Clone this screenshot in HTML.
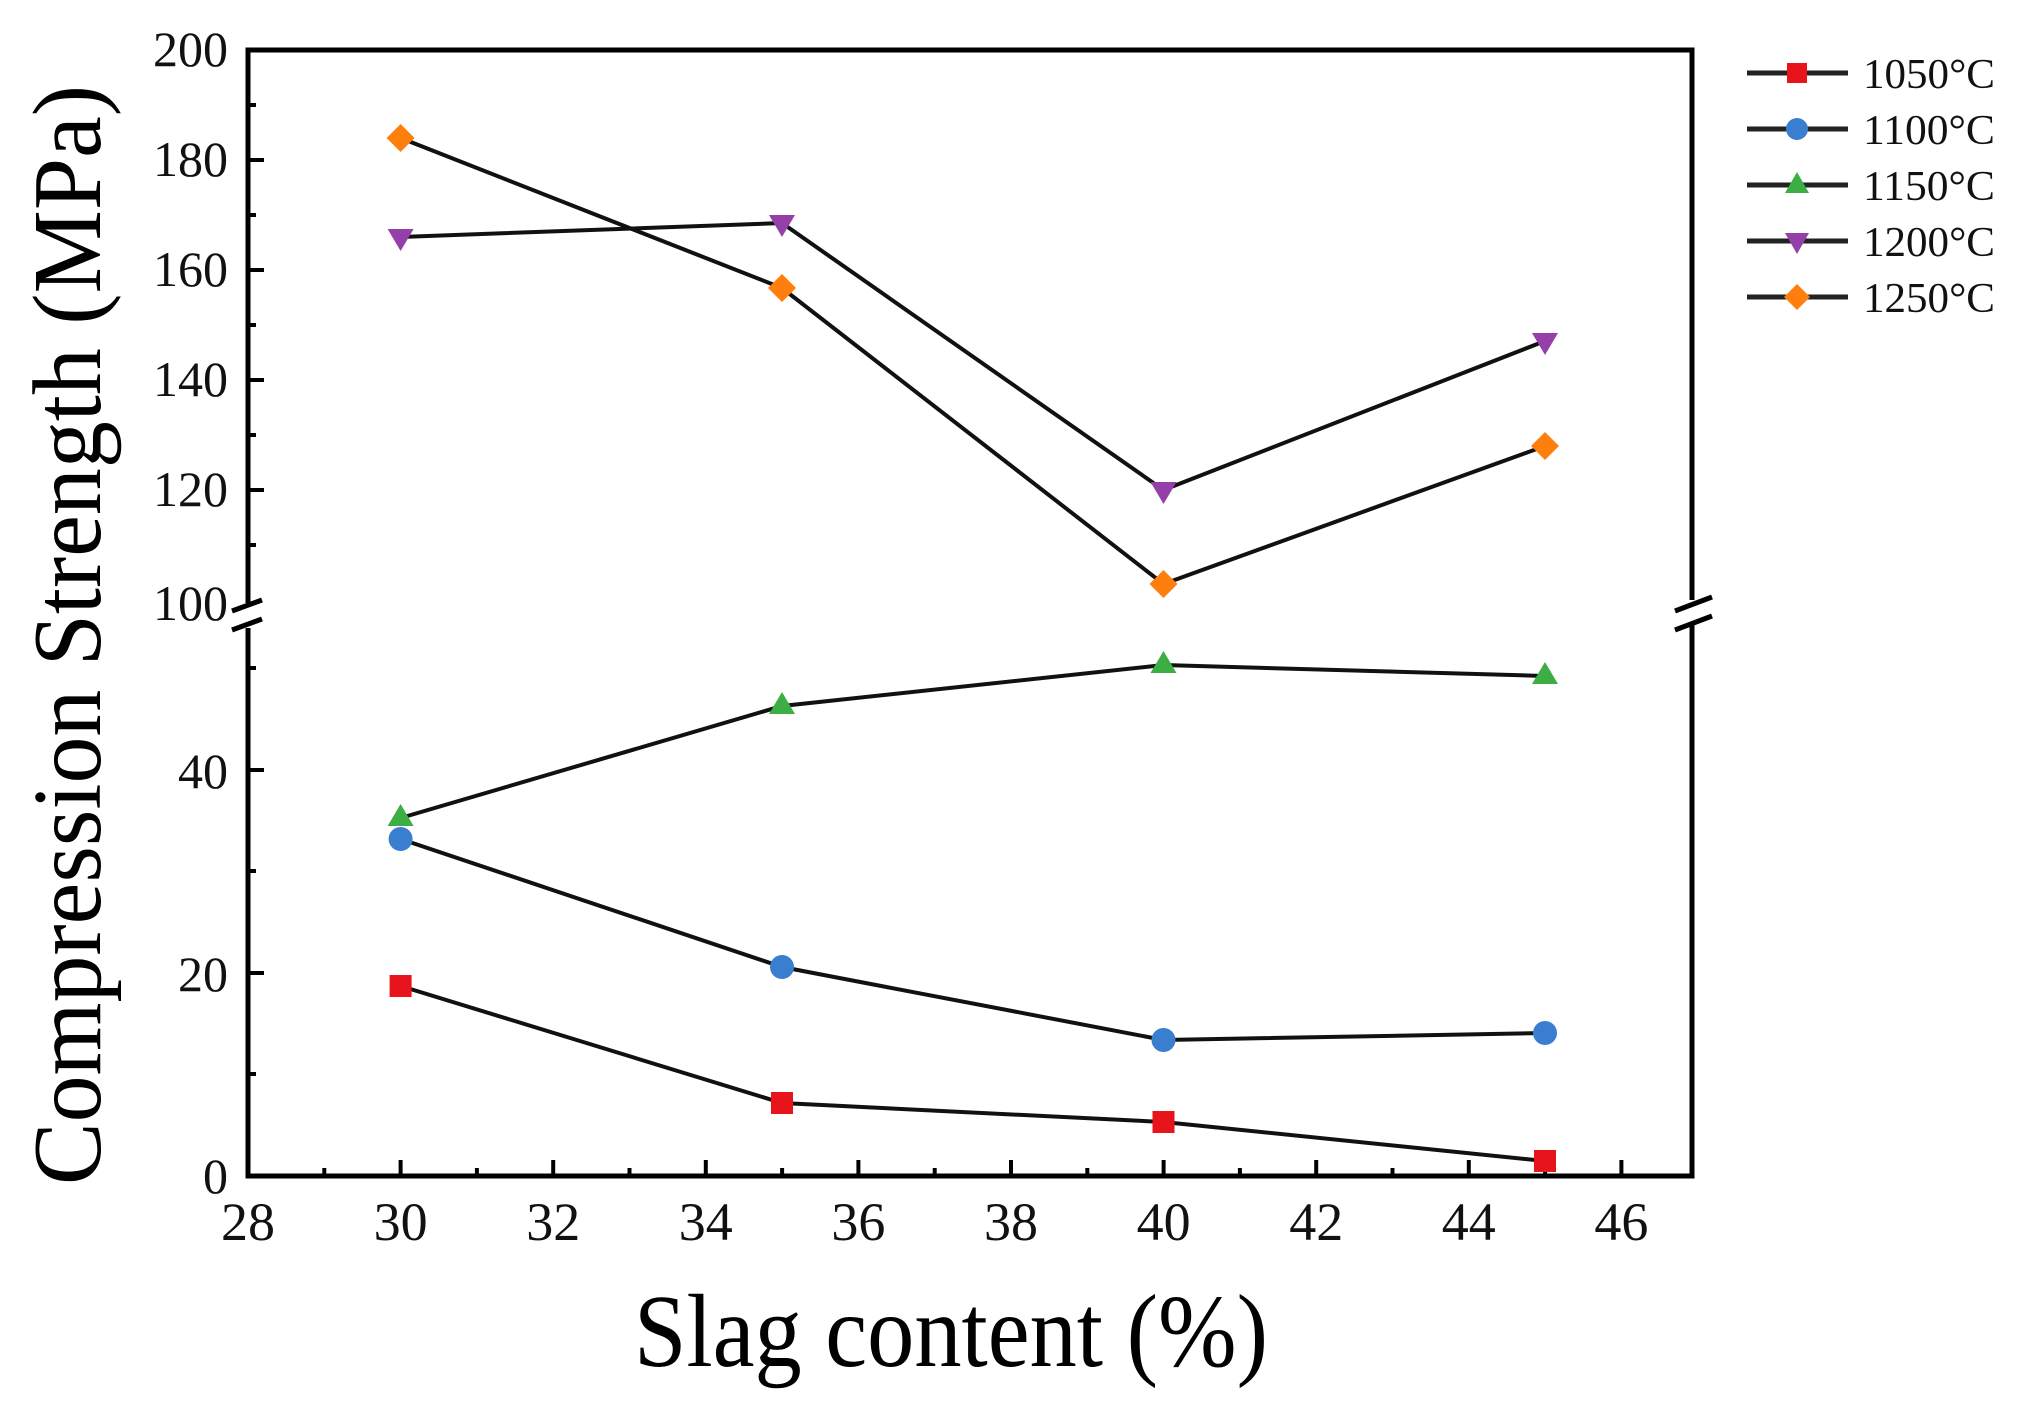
<!DOCTYPE html>
<html><head><meta charset="utf-8"><style>html,body{margin:0;padding:0;background:#fff}svg{display:block}</style></head>
<body>
<svg width="2022" height="1411" viewBox="0 0 2022 1411" xmlns="http://www.w3.org/2000/svg" font-family="Liberation Serif, serif">
<rect width="2022" height="1411" fill="#fff"/>
<g stroke="#000" stroke-width="5" fill="none">
<polyline points="248,603 248,50 1692,50 1692,600"/>
<polyline points="248,628 248,1176 1692,1176 1692,624"/>
</g>
<g stroke="#000" stroke-width="5">
<line x1="232" y1="611" x2="262" y2="600"/><line x1="232" y1="630" x2="262" y2="619"/>
<line x1="1675" y1="611" x2="1712" y2="597"/><line x1="1675" y1="630" x2="1712" y2="616"/>
</g>
<g stroke="#000" stroke-width="4">
<line x1="400.6" y1="1176" x2="400.6" y2="1160"/><line x1="553.2" y1="1176" x2="553.2" y2="1160"/><line x1="705.8" y1="1176" x2="705.8" y2="1160"/><line x1="858.4" y1="1176" x2="858.4" y2="1160"/><line x1="1011" y1="1176" x2="1011" y2="1160"/><line x1="1163.6" y1="1176" x2="1163.6" y2="1160"/><line x1="1316.2" y1="1176" x2="1316.2" y2="1160"/><line x1="1468.8" y1="1176" x2="1468.8" y2="1160"/><line x1="1621.4" y1="1176" x2="1621.4" y2="1160"/>
<line x1="324.3" y1="1176" x2="324.3" y2="1168"/><line x1="476.9" y1="1176" x2="476.9" y2="1168"/><line x1="629.5" y1="1176" x2="629.5" y2="1168"/><line x1="782.1" y1="1176" x2="782.1" y2="1168"/><line x1="934.7" y1="1176" x2="934.7" y2="1168"/><line x1="1087.3" y1="1176" x2="1087.3" y2="1168"/><line x1="1239.9" y1="1176" x2="1239.9" y2="1168"/><line x1="1392.5" y1="1176" x2="1392.5" y2="1168"/><line x1="1545.1" y1="1176" x2="1545.1" y2="1168"/>
<line x1="248" y1="160" x2="264" y2="160"/><line x1="248" y1="270" x2="264" y2="270"/><line x1="248" y1="380" x2="264" y2="380"/><line x1="248" y1="490" x2="264" y2="490"/>
<line x1="248" y1="105" x2="256" y2="105"/><line x1="248" y1="215" x2="256" y2="215"/><line x1="248" y1="325" x2="256" y2="325"/><line x1="248" y1="435" x2="256" y2="435"/><line x1="248" y1="545" x2="256" y2="545"/>
<line x1="248" y1="973" x2="264" y2="973"/><line x1="248" y1="770" x2="264" y2="770"/>
<line x1="248" y1="1074" x2="256" y2="1074"/><line x1="248" y1="871" x2="256" y2="871"/><line x1="248" y1="668" x2="256" y2="668"/>
</g>
<g font-size="50" fill="#111" text-anchor="end">
<text x="228" y="66">200</text><text x="228" y="176">180</text><text x="228" y="286">160</text><text x="228" y="396">140</text><text x="228" y="506">120</text><text x="228" y="620">100</text>
<text x="228" y="788">40</text><text x="228" y="991">20</text><text x="228" y="1193">0</text>
</g>
<g font-size="54" fill="#111" text-anchor="middle">
<text x="248" y="1240">28</text><text x="400.6" y="1240">30</text><text x="553.2" y="1240">32</text><text x="705.8" y="1240">34</text><text x="858.4" y="1240">36</text><text x="1011" y="1240">38</text><text x="1163.6" y="1240">40</text><text x="1316.2" y="1240">42</text><text x="1468.8" y="1240">44</text><text x="1621.4" y="1240">46</text>
</g>
<text x="634" y="1366" font-size="104" textLength="634" lengthAdjust="spacingAndGlyphs">Slag content (%)</text>
<text transform="translate(100,1185) rotate(-90)" font-size="98" textLength="1100" lengthAdjust="spacingAndGlyphs">Compression Strength (MPa)</text>
<g stroke="#111" stroke-width="4" fill="none">
<polyline points="400.6,986 782,1103 1163.5,1122 1545,1161"/>
<polyline points="400.6,839 782,967 1163.5,1040 1545,1033"/>
<polyline points="400.6,818 782,706 1163.5,665 1545,676"/>
<polyline points="400.6,237 782,223 1163.5,490 1545,341"/>
<polyline points="400.6,138 782,288 1163.5,584 1545,446"/>
</g>
<g fill="#e8141c">
<rect x="389.6" y="975" width="22" height="22"/><rect x="771" y="1092" width="22" height="22"/><rect x="1152.5" y="1111" width="22" height="22"/><rect x="1534" y="1150" width="22" height="22"/>
</g>
<g fill="#3a7fcf">
<circle cx="400.6" cy="839" r="12"/><circle cx="782" cy="967" r="12"/><circle cx="1163.5" cy="1040" r="12"/><circle cx="1545" cy="1033" r="12"/>
</g>
<g fill="#3cae44">
<polygon points="400.6,804 413.6,826 387.6,826"/><polygon points="782,692 795,714 769,714"/><polygon points="1163.5,651 1176.5,673 1150.5,673"/><polygon points="1545,662 1558,684 1532,684"/>
</g>
<g fill="#9440a8">
<polygon points="387.6,229 413.6,229 400.6,251"/><polygon points="769,215 795,215 782,237"/><polygon points="1150.5,482 1176.5,482 1163.5,504"/><polygon points="1532,333 1558,333 1545,355"/>
</g>
<g fill="#ff7f0e">
<polygon points="400.6,124 414.6,138 400.6,152 386.6,138"/><polygon points="782,274 796,288 782,302 768,288"/><polygon points="1163.5,570 1177.5,584 1163.5,598 1149.5,584"/><polygon points="1545,432 1559,446 1545,460 1531,446"/>
</g>
<g stroke="#222" stroke-width="5">
<line x1="1747" y1="73" x2="1848" y2="73"/><line x1="1747" y1="129" x2="1848" y2="129"/><line x1="1747" y1="185" x2="1848" y2="185"/><line x1="1747" y1="241" x2="1848" y2="241"/><line x1="1747" y1="297" x2="1848" y2="297"/>
</g>
<rect x="1787" y="63" width="20" height="20" fill="#e8141c"/>
<circle cx="1797" cy="129" r="11" fill="#3a7fcf"/>
<polygon points="1797,172 1809,193 1785,193" fill="#3cae44"/>
<polygon points="1785,233 1809,233 1797,254" fill="#9440a8"/>
<polygon points="1797,284 1810,297 1797,310 1784,297" fill="#ff7f0e"/>
<g font-size="42" fill="#111">
<text x="1863" y="88" textLength="132" lengthAdjust="spacingAndGlyphs">1050°C</text>
<text x="1863" y="144" textLength="132" lengthAdjust="spacingAndGlyphs">1100°C</text>
<text x="1863" y="200" textLength="132" lengthAdjust="spacingAndGlyphs">1150°C</text>
<text x="1863" y="256" textLength="132" lengthAdjust="spacingAndGlyphs">1200°C</text>
<text x="1863" y="312" textLength="132" lengthAdjust="spacingAndGlyphs">1250°C</text>
</g>
</svg>
</body></html>
